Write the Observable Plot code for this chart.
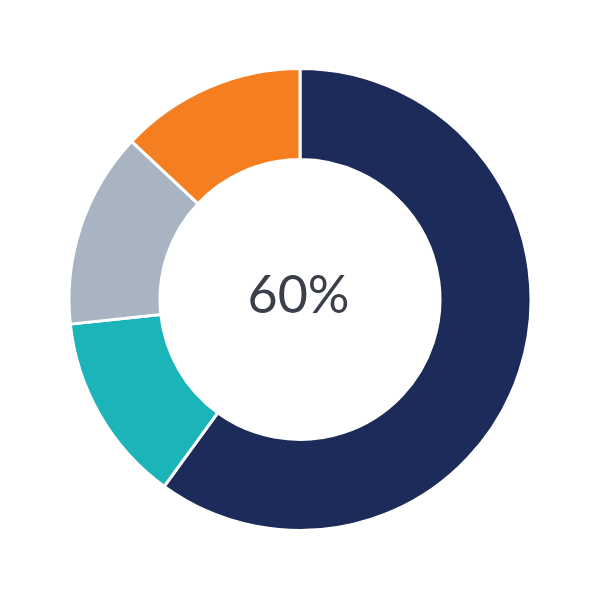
<!DOCTYPE html>
<html>
<head>
<meta charset="utf-8">
<script src="https://cdn.jsdelivr.net/npm/d3@7"></script>
<script src="https://cdn.jsdelivr.net/npm/@observablehq/plot@0.6"></script>
<style>
  html, body { margin: 0; padding: 0; background: #fff; }
  #chart { width: 600px; height: 599px; }
</style>
</head>
<body>
<div id="chart"></div>
<script>
const categories = ["A", "B", "C", "D"];
const values = [60, 13.3, 13.7, 13.0];
const colors = ["#1c2b59", "#1bb5b9", "#a9b4c2", "#f47e20"];
const centerLabel = "60%";

const data = categories.map((c, i) => ({category: c, value: values[i]}));
const pie = d3.pie().sort(null).value(d => d.value);
const arcsData = pie(data);

const outerR = 231 / 300; // in data units (x domain -1..1 over 600px)
const innerR = 140 / 300;

function donut(index, scales) {
  const cx = scales.x(0), cy = scales.y(0);
  const ro = scales.x(outerR) - cx;
  const ri = scales.x(innerR) - cx;
  const arc = d3.arc().innerRadius(ri).outerRadius(ro);
  const g = d3.create("svg:g").attr("transform", `translate(${cx},${cy})`);
  g.selectAll("path")
    .data(arcsData)
    .join("path")
    .attr("d", arc)
    .attr("fill", d => scales.color(d.data.category))
    .attr("stroke", "#fff")
    .attr("stroke-width", 3)
    .attr("stroke-linejoin", "round");
  return g.node();
}

const chart = Plot.plot({
  width: 600,
  height: 599,
  margin: 0,
  x: {domain: [-1, 1], axis: null},
  y: {domain: [-299.5/300, 299.5/300], axis: null, reverse: true},
  color: {domain: categories, range: colors},
  style: {background: "#fff"},
  marks: [
    donut,
    Plot.text([centerLabel], {
      x: () => 0, y: () => 0, text: d => d,
      fontSize: 52, fill: "#3a3f4a",
      fontFamily: "Lato, sans-serif",
      dx: -2, dy: -4
    })
  ]
});
document.getElementById("chart").appendChild(chart);
</script>
</body>
</html>
